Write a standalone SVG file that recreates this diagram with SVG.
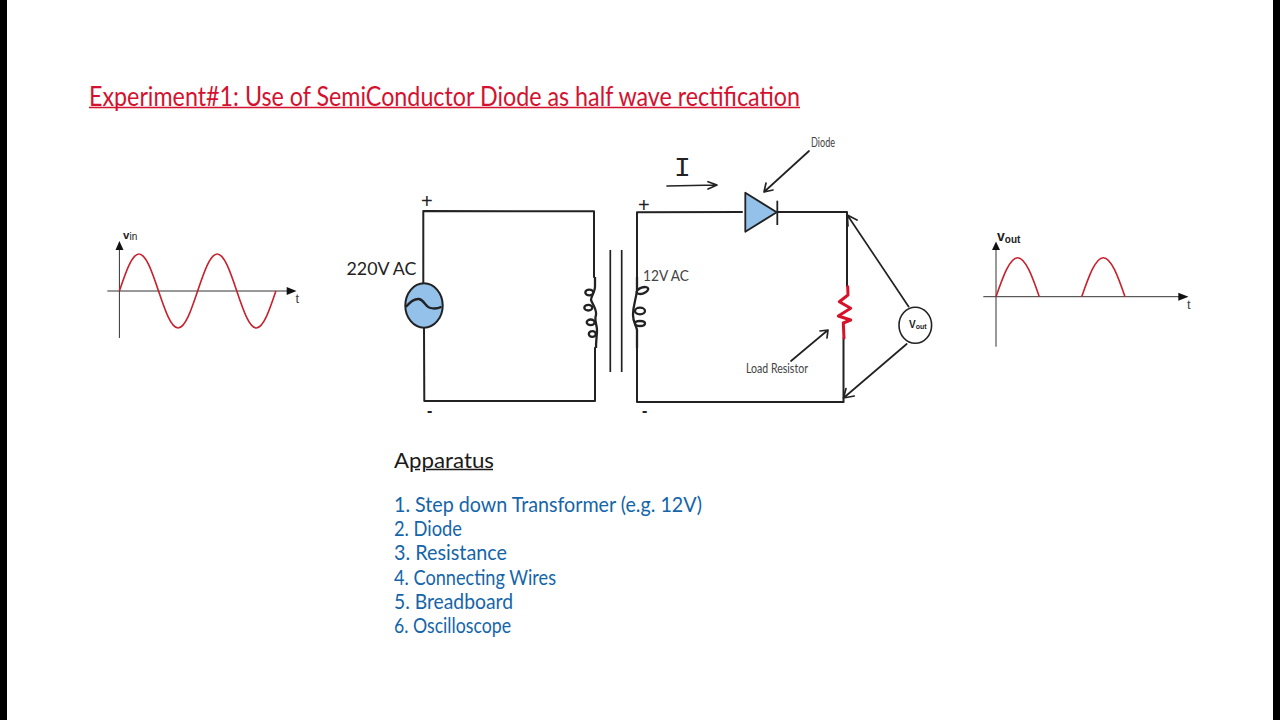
<svg xmlns="http://www.w3.org/2000/svg" width="1280" height="720" viewBox="0 0 1280 720">
<style>
.hand{font-family:"Lato","Liberation Sans",sans-serif}
.w{fill:none;stroke:#222;stroke-width:2;stroke-linecap:round;stroke-linejoin:round}
.a{fill:none;stroke:#222;stroke-width:1.700;stroke-linecap:round;stroke-linejoin:round}
.ax{fill:none;stroke:#333;stroke-width:1}
.sine{fill:none;stroke:#c8202c;stroke-width:1.600}
.coil{fill:none;stroke:#222;stroke-width:2.300}
.list{fill:#1565a8;font-size:21px}
.lab{fill:#444;font-size:12.500px}
.gl{font-family:"Liberation Sans",Arial,sans-serif;fill:#222}
.pm{font-size:20px}
.mn{font-size:16px;font-weight:bold}
.t{font-size:13px;fill:#444}
</style>
<rect width="1280" height="720" fill="#fff"/>
<path d="M0 0H7V720H0ZM1273 0H1280V720H1273Z" fill="#000"/>
<g id="title">
<text class="hand" x="89" y="106" font-size="26" fill="#d3122f" textLength="711" lengthAdjust="spacingAndGlyphs">Experiment#1: Use of SemiConductor Diode as half wave rectification</text>
<path d="M89 107.500H800" stroke="#d3122f" stroke-width="1.500"/>
</g>
<g id="connectors">
<path class="w" d="M423.300 283V211L594 211.300V277"/>
<path class="w" d="M424 328L424.300 401H595V348"/>
<path class="w" d="M637 277V212.300L742 212"/>
<path class="w" d="M637 348V402H843.300"/>
<path class="w" d="M778 212H847V286"/>
<path class="w" d="M843.500 338V402"/>
<path class="a" d="M667 186L717 185M708 181.700L717 185L708 189"/>
<path class="a" d="M809 151L764 192M766 183L764 192L773 190"/>
<path class="a" d="M791 361L828 330M820 331L828 330L827 338"/>
<path class="a" d="M908.700 306.700L847.300 215M848 226L847.300 215L857 220"/>
<path class="a" d="M906.700 344L843.500 398M846 388.500L843.500 398L854.300 396"/>
</g>
<g id="source-220v">
<ellipse cx="424" cy="305.500" rx="18.700" ry="22.200" fill="#93c1ea" stroke="#222" stroke-width="2"/>
<path d="M406 306.700C410 302 414 298.500 419 299C424 300 425 306 429 307.500C433 309 438 308.500 441.500 306.700" fill="none" stroke="#222" stroke-width="2.400"/>
<text class="hand" x="346.500" y="275" font-size="18" fill="#222" textLength="70" lengthAdjust="spacingAndGlyphs">220V AC</text>
<text class="gl pm" x="421" y="208">+</text>
<text class="gl mn" x="427" y="416">-</text>
</g>
<g id="transformer">
<path class="coil" d="M595 277V287C595 292 591 296 591 300C593 305 597 310 596 315C594 320 597 325 597 330C597 335 596 340 596 348"/>
<ellipse class="coil" cx="589.300" cy="292.500" rx="4" ry="2.800"/>
<ellipse class="coil" cx="588.300" cy="307.700" rx="4" ry="2.800"/>
<ellipse class="coil" cx="590.700" cy="322.300" rx="4" ry="2.800"/>
<ellipse class="coil" cx="592.300" cy="334" rx="3.500" ry="2.800"/>
<path class="coil" d="M637 277V290C636 300 633 305 633 315C633 322 636 325 637 330V348"/>
<ellipse class="coil" cx="642.500" cy="290.500" rx="6" ry="3" transform="rotate(-20 642.500 290.500)"/>
<ellipse class="coil" cx="640" cy="311" rx="5" ry="3.300"/>
<ellipse class="coil" cx="640" cy="323.500" rx="5" ry="2.500"/>
<path d="M610.300 250V372M621.700 250V372" stroke="#222" stroke-width="1.700" fill="none"/>
<text class="hand" x="643" y="280.500" font-size="15" fill="#444" textLength="46" lengthAdjust="spacingAndGlyphs">12V AC</text>
<text class="gl pm" x="638" y="211.500">+</text>
<text class="gl mn" x="642" y="416">-</text>
</g>
<g id="diode">
<path d="M745.300 192.700L776.700 212.300L745.300 231.700Z" fill="#93c1ea" stroke="#222" stroke-width="1.800" stroke-linejoin="round"/>
<path d="M777.300 200.700V225" stroke="#222" stroke-width="1.800"/>
<text class="hand lab" x="811" y="147" textLength="24" lengthAdjust="spacingAndGlyphs">Diode</text>
</g>
<g id="current-label">
<text x="674" y="176" font-family="Liberation Mono, monospace" font-size="28" fill="#222">I</text>
</g>
<g id="load-resistor">
<path d="M847.700 286.700L848 295L839.300 301.700L850.700 308.300L838.300 316L850.700 320L843.300 323L844 338" fill="none" stroke="#d8102a" stroke-width="3" stroke-linejoin="round" stroke-linecap="round"/>
<text class="hand lab" x="746" y="372.500" textLength="62" lengthAdjust="spacingAndGlyphs">Load Resistor</text>
</g>
<g id="voltmeter">
<ellipse cx="915.300" cy="325.300" rx="16.300" ry="18" fill="#fff" stroke="#222" stroke-width="1.600"/>
<text class="gl" x="909" y="327.500" font-size="10" font-weight="bold">V<tspan font-size="7" dy="1">out</tspan></text>
</g>
<g id="vin-graph">
<path class="ax" d="M107.300 291H288M119.400 245V338"/>
<path d="M119.400 241L115.500 250H123.500Z" fill="#111"/>
<path d="M286.700 287L296.500 291L286.700 295Z" fill="#111"/>
<path class="sine" d="M119.400 291c6.400 -19 12.500 -37 19.560 -37c7.100 0 13.200 18 19.560 37c6.400 19 12.500 37 19.560 37c7.100 0 13.200 -18 19.560 -37c6.400 -19 12.500 -37 19.560 -37c7.100 0 13.200 18 19.560 37c6.400 19 12.500 37 19.560 37c7.100 0 13.200 -18 19.560 -37"/>
<text class="gl" x="123" y="238.500" font-size="11.500" font-weight="bold">v<tspan font-size="10" dy="1.500" font-weight="normal">in</tspan></text>
<text class="gl t" x="295.500" y="303">t</text>
</g>
<g id="vout-graph">
<path class="ax" d="M983.300 296.700H1180M996 245V346.700"/>
<path d="M996 241.500L992 250H1000Z" fill="#111"/>
<path d="M1178.300 292.700L1188.500 296.700L1178.300 300.700Z" fill="#111"/>
<path class="sine" d="M996 296.700c7 -20 13.700 -39 21.650 -39c7.900 0 14.700 19 21.650 39"/>
<path class="sine" d="M1081.700 296.700c7 -20 13.700 -39 21.650 -39c7.900 0 14.700 19 21.650 39"/>
<text class="gl" x="997" y="240.500" font-size="14" font-weight="bold">v<tspan font-size="10" dy="2">out</tspan></text>
<text class="gl t" x="1187" y="308.500">t</text>
</g>
<g id="apparatus">
<text class="hand" x="394" y="468" font-size="21" fill="#1a1a1a" textLength="100" lengthAdjust="spacingAndGlyphs">Apparatus</text>
<path d="M415 469.500H420M426 469.500H493" stroke="#1a1a1a" stroke-width="1.300"/>
<text class="hand list" x="394" y="512" textLength="308" lengthAdjust="spacingAndGlyphs">1. Step down Transformer (e.g. 12V)</text>
<text class="hand list" x="394" y="536" textLength="68" lengthAdjust="spacingAndGlyphs">2. Diode</text>
<text class="hand list" x="394" y="560" textLength="113" lengthAdjust="spacingAndGlyphs">3. Resistance</text>
<text class="hand list" x="394" y="585" textLength="162" lengthAdjust="spacingAndGlyphs">4. Connecting Wires</text>
<text class="hand list" x="394" y="609" textLength="119" lengthAdjust="spacingAndGlyphs">5. Breadboard</text>
<text class="hand list" x="394" y="633" textLength="117" lengthAdjust="spacingAndGlyphs">6. Oscilloscope</text>
</g>
</svg>
